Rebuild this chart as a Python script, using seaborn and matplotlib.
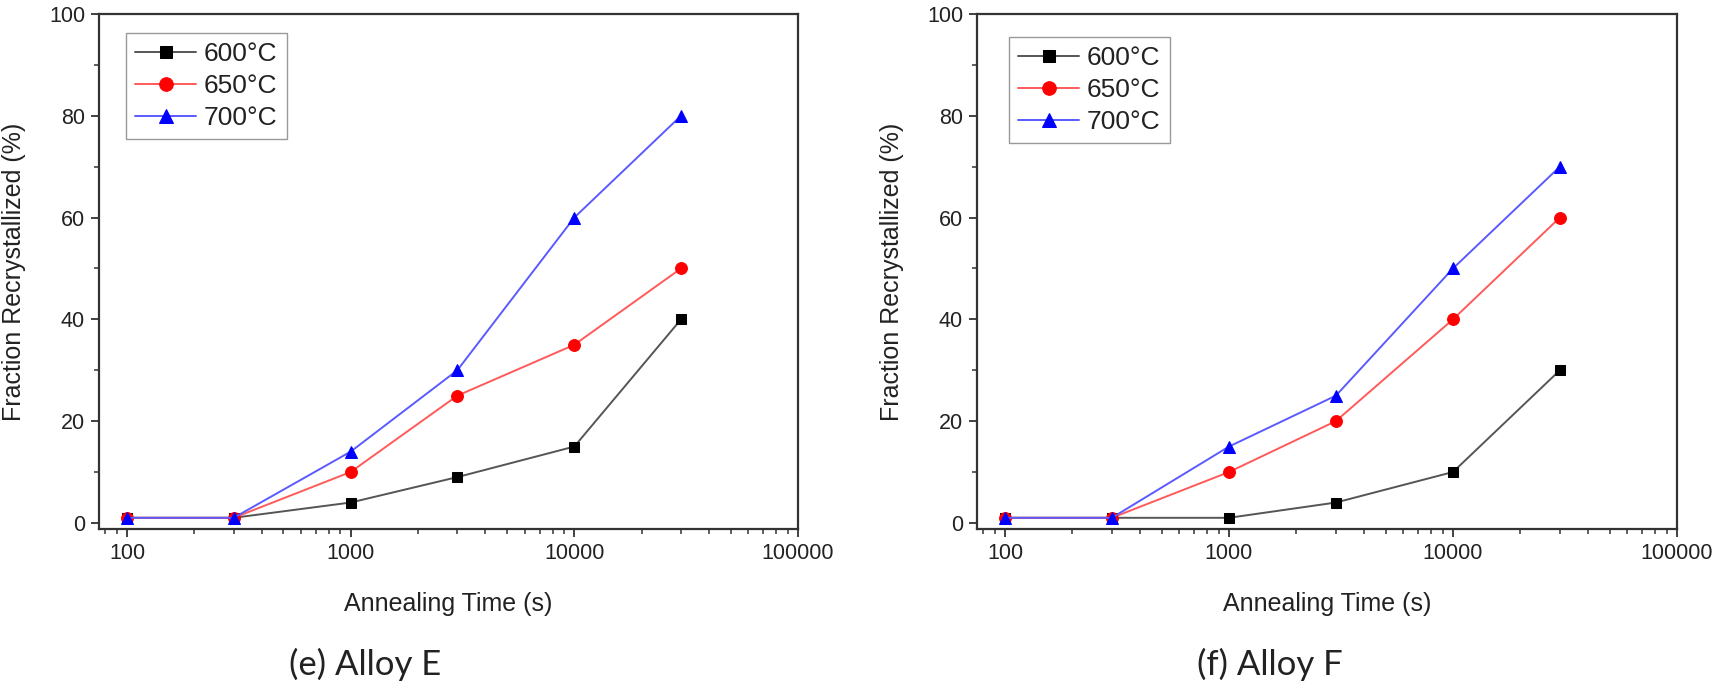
import numpy as np
import pandas as pd
import matplotlib
matplotlib.use("Agg")
import matplotlib.pyplot as plt
import seaborn as sns
from matplotlib.ticker import LogLocator, FixedLocator, NullFormatter

# annealing times (s)
times = [100, 300, 1000, 3000, 10000, 30000]
temps = ["600°C", "650°C", "700°C"]

# fraction recrystallized (%) - Alloy E
alloy_e_600 = [1, 1, 4, 9, 15, 40]
alloy_e_650 = [1, 1, 10, 25, 35, 50]
alloy_e_700 = [1, 1, 14, 30, 60, 80]

# fraction recrystallized (%) - Alloy F
alloy_f_600 = [1, 1, 1, 4, 10, 30]
alloy_f_650 = [1, 1, 10, 20, 40, 60]
alloy_f_700 = [1, 1, 15, 25, 50, 70]

y_ticks = [0, 20, 40, 60, 80, 100]
x_ticks = [100, 1000, 10000, 100000]
x_tick_labels = ["100", "1000", "10000", "100000"]

sns.set_style("white")
plt.rcParams["font.family"] = ["Liberation Sans", "DejaVu Sans"]

line_cols = ["#555555", "#ff5a5a", "#5a5aff"]
mark_cols = ["#000000", "#ff0000", "#0000ff"]
markers = ["s", "o", "^"]
msizes = [7.5, 8.5, 9]

fig = plt.figure(figsize=(17.2, 6.89), dpi=100)
ax_e = fig.add_axes([99 / 1720, 1 - 529 / 689, 699 / 1720, 515 / 689])
ax_f = fig.add_axes([977 / 1720, 1 - 529 / 689, 700 / 1720, 515 / 689])

panels = [
    (ax_e, [alloy_e_600, alloy_e_650, alloy_e_700], (0.039, 0.963)),
    (ax_f, [alloy_f_600, alloy_f_650, alloy_f_700], (0.046, 0.955)),
]

for ax, series, leg_pos in panels:
    for vals, t, lc, mc, mk, ms in zip(series, temps, line_cols, mark_cols, markers, msizes):
        df = pd.DataFrame({"time": times, "frac": vals})
        sns.lineplot(data=df, x="time", y="frac", ax=ax, color=lc, lw=1.4,
                     marker=mk, markersize=ms, markerfacecolor=mc,
                     markeredgecolor=mc, label=t)
    ax.set_xscale("log")
    ax.set_xlim(75, 100000)
    ax.set_ylim(-1.2, 100)
    ax.xaxis.set_major_locator(FixedLocator(x_ticks))
    ax.set_xticklabels(x_tick_labels)
    ax.xaxis.set_minor_locator(LogLocator(base=10, subs=np.arange(2, 10)))
    ax.xaxis.set_minor_formatter(NullFormatter())
    ax.set_yticks(y_ticks)
    ax.yaxis.set_minor_locator(FixedLocator([10, 30, 50, 70, 90]))
    ax.tick_params(axis="both", which="major", direction="out", length=6,
                   width=1.3, colors="#333333", labelsize=15.5, labelcolor="#222222",
                   bottom=True, left=True, top=False, right=False, pad=4)
    ax.tick_params(axis="both", which="minor", direction="out", length=3.5,
                   width=1.1, colors="#333333", bottom=True, left=True)
    for s in ax.spines.values():
        s.set_color("#333333")
        s.set_linewidth(1.6)
    ax.set_xlabel("Annealing Time (s)", fontsize=18, color="#222222")
    ax.set_ylabel("Fraction Recrystallized (%)", fontsize=18, color="#222222")
    ax.xaxis.set_label_coords(0.5, -0.122)
    ax.yaxis.set_label_coords(-0.105, 0.5)
    leg = ax.legend(loc="upper left", bbox_to_anchor=leg_pos, fontsize=19,
                    fancybox=False, framealpha=1, edgecolor="#999999",
                    handlelength=2.3, handletextpad=0.3, borderpad=0.35,
                    labelspacing=0.3, borderaxespad=0, markerscale=1.15)
    leg.get_frame().set_linewidth(1.0)
    for txt in leg.get_texts():
        txt.set_color("#222222")

fig.text(365 / 1720, 1 - 664 / 689, "(e) Alloy E", fontsize=25, ha="center",
         va="center", family=["Lato", "DejaVu Sans"], color="#222222")
fig.text(1270 / 1720, 1 - 664 / 689, "(f) Alloy F", fontsize=25, ha="center",
         va="center", family=["Lato", "DejaVu Sans"], color="#222222")

fig.savefig("out.png", dpi=100, facecolor="white")
